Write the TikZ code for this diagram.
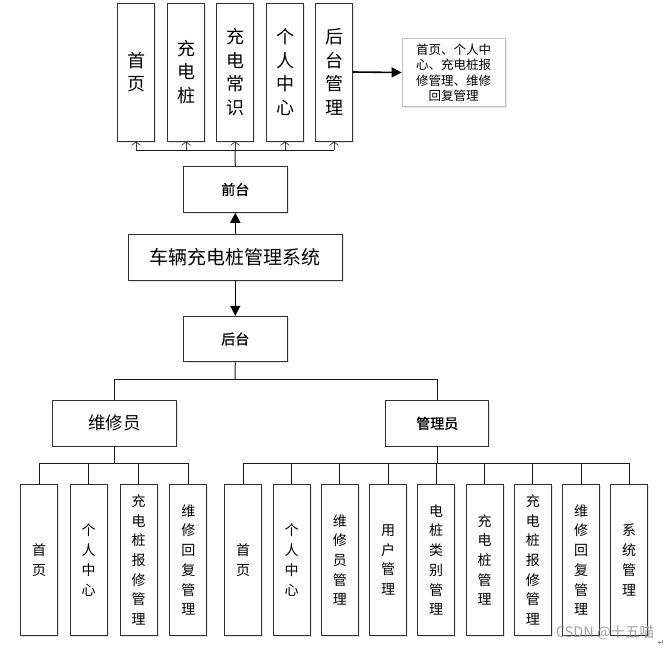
\documentclass[tikz,border=0pt]{standalone}
\usepackage{fontspec}
\setmainfont{Noto Sans CJK SC}
\newfontfamily\cjkb{Noto Sans CJK SC}[FakeBold=1.2]
\newfontfamily\symf{DejaVu Sans}
\usetikzlibrary{arrows.meta,shadows}
\begin{document}
\begin{tikzpicture}[x=1pt,y=-1pt,
  box/.style={draw=black!80, line width=0.9pt, fill=white,
    drop shadow={shadow xshift=1.5pt,shadow yshift=-1.5pt,fill=blue!20!black!20,opacity=0.5},
    inner sep=0pt, align=center},
  topbox/.style={box, minimum width=37pt, minimum height=138pt,
    font=\fontsize{18}{23.5}\selectfont},
  botbox/.style={box, minimum width=37pt, minimum height=151.4pt,
    font=\fontsize{14}{19.7}\selectfont},
  midbox/.style={box, minimum width=104pt, minimum height=45.6pt,
    font=\cjkb\fontsize{14}{16}\selectfont},
  notebox/.style={draw=black!25, line width=0.8pt, fill=white,
    drop shadow={shadow xshift=1.5pt,shadow yshift=-1.5pt,fill=black!20,opacity=0.5},
    minimum width=103pt, minimum height=68pt, inner sep=0pt, align=center,
    font=\fontsize{12.5}{15.5}\selectfont},
  conn/.style={draw=black!90, line width=1pt},
  openarrow/.style={draw=black!75, line width=0.7pt, -{Straight Barb[length=3.5pt,width=9pt]}},
  bigarrow/.style={draw=black, line width=1.6pt, -{Triangle[length=10pt,width=10pt]}}
]
\useasboundingbox (0,0) rectangle (670,649);

% top level boxes
\node[topbox] (t1) at (136,72) {首\\页};
\node[topbox] (t2) at (186,72) {充\\电\\桩};
\node[topbox] (t3) at (235,72) {充\\电\\常\\识};
\node[topbox] (t4) at (285,72) {个\\人\\中\\心};
\node[topbox] (t5) at (334,72) {后\\台\\管\\理};
\node[notebox] (note) at (453.5,72.5) {首页、个人中\\心、充电桩报\\修管理、维修\\回复管理};

\node[midbox] (qt) at (235.3,189.5) {前台};
\node[box, minimum width=214pt, minimum height=46pt, font=\fontsize{19}{22}\selectfont] (sys) at (235.3,257) {车辆充电桩管理系统};
\node[midbox] (ht) at (235.3,339) {后台};

\node[box, minimum width=124pt, minimum height=45.3pt, font=\fontsize{17.5}{20}\selectfont] (wx) at (114.7,423.3) {维修员};
\node[midbox, minimum width=103pt, minimum height=45.3pt] (gl) at (437.3,423.3) {管理员};

% repair staff children
\node[botbox] (w1) at (39,560) {首\\页};
\node[botbox] (w2) at (88.7,560) {个\\人\\中\\心};
\node[botbox] (w3) at (138.7,560) {充\\电\\桩\\报\\修\\管\\理};
\node[botbox] (w4) at (188.3,560) {维\\修\\回\\复\\管\\理};

% admin children
\node[botbox] (a1) at (243.2,560) {首\\页};
\node[botbox] (a2) at (291.7,560) {个\\人\\中\\心};
\node[botbox] (a3) at (339.8,560) {维\\修\\员\\管\\理};
\node[botbox] (a4) at (388,560) {用\\户\\管\\理};
\node[botbox] (a5) at (436.2,560) {电\\桩\\类\\别\\管\\理};
\node[botbox] (a6) at (484.5,560) {充\\电\\桩\\管\\理};
\node[botbox] (a7) at (532.8,560) {充\\电\\桩\\报\\修\\管\\理};
\node[botbox] (a8) at (581,560) {维\\修\\回\\复\\管\\理};
\node[botbox] (a9) at (629,560) {系\\统\\管\\理};

% bus coordinates
\coordinate (tbus) at (235,150);
\coordinate (hbus) at (235,379.3);
\coordinate (wbus) at (114.7,463.3);
\coordinate (gbus) at (437.3,463.3);

% top bus
\draw[conn] (qt.north) -- (tbus);
\draw[conn] (t1.south |- tbus) -- (t5.south |- tbus);
\foreach \n in {t1,t2,t3,t4,t5}
  \draw[openarrow] (\n.south |- tbus) -- (\n.south);

\draw[bigarrow] (t5.east) -- (note.west);
\draw[bigarrow] (sys.north) -- (qt.south);
\draw[bigarrow] (sys.south) -- (ht.north);

% backend bus
\draw[conn] (ht.south) -- (hbus);
\draw[conn] (wx.north) -- (wx.north |- hbus) -- (gl.north |- hbus) -- (gl.north);

% repair staff bus
\draw[conn] (wx.south) -- (wbus);
\draw[conn] (w1.north |- wbus) -- (w4.north |- wbus);
\foreach \n in {w1,w2,w3,w4}
  \draw[conn] (\n.north |- wbus) -- (\n.north);

% admin bus
\draw[conn] (gl.south) -- (gbus);
\draw[conn] (a1.north |- gbus) -- (a9.north |- gbus);
\foreach \n in {a1,a2,a3,a4,a5,a6,a7,a8,a9}
  \draw[conn] (\n.north |- gbus) -- (\n.north);

% watermark
\node[text=black!45, opacity=0.8, font=\fontsize{14.5}{16}\selectfont, inner sep=0pt] (wm) at (605,633) {CSDN @十五喵};
\node[text=black!60, font=\symf\fontsize{8}{9}\selectfont, inner sep=0pt] (ret) at (661,643) {↵};
\end{tikzpicture}
\end{document}
